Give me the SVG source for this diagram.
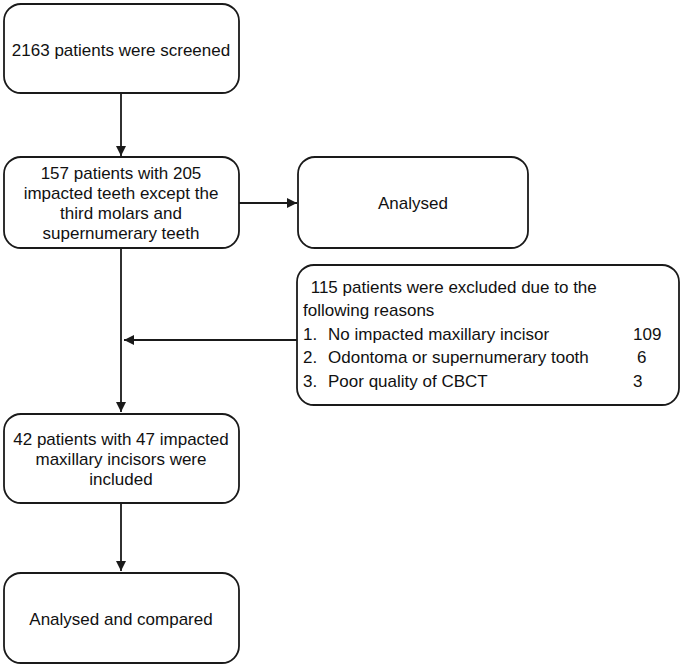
<svg xmlns="http://www.w3.org/2000/svg" width="685" height="668" viewBox="0 0 685 668">
<defs>
<style>
.box{fill:#fff;stroke:#1a1a1a;stroke-width:1.8}
.t{font-family:"Liberation Sans",Arial,sans-serif;font-size:17px;fill:#111}
.c{text-anchor:middle}
.ln{stroke:#1a1a1a;stroke-width:1.8;fill:none}
</style>
<marker id="ah" viewBox="0 0 10 10" refX="10" refY="5" markerWidth="10" markerHeight="10" markerUnits="userSpaceOnUse" orient="auto">
<path d="M0,0 L10,5 L0,10 z" fill="#1a1a1a"/>
</marker>
</defs>
<rect width="685" height="668" fill="#fff"/>
<g id="connectors">
<line class="ln" x1="121" y1="93" x2="121" y2="156" marker-end="url(#ah)"/>
<line class="ln" x1="239" y1="203" x2="297" y2="203" marker-end="url(#ah)"/>
<line class="ln" x1="121" y1="248" x2="121" y2="412" marker-end="url(#ah)"/>
<line class="ln" x1="297" y1="340" x2="124" y2="340" marker-end="url(#ah)"/>
<line class="ln" x1="121" y1="503" x2="121" y2="571" marker-end="url(#ah)"/>
</g>
<g id="screened">
<rect class="box" x="4" y="4" width="235" height="89" rx="17"/>
<text class="t c" x="121" y="56">2163 patients were screened</text>
</g>
<g id="impacted">
<rect class="box" x="4" y="157" width="235" height="91" rx="17"/>
<text class="t c" x="121" y="179">157 patients with 205</text>
<text class="t c" x="121" y="199">impacted teeth except the</text>
<text class="t c" x="121" y="219">third molars and</text>
<text class="t c" x="121" y="239">supernumerary teeth</text>
</g>
<g id="analysed">
<rect class="box" x="298" y="157" width="230" height="91" rx="17"/>
<text class="t c" x="413" y="209">Analysed</text>
</g>
<g id="excluded">
<rect class="box" x="297" y="265" width="382" height="140" rx="17"/>
<text class="t" x="306" y="293" xml:space="preserve"> 115 patients were excluded due to the</text>
<text class="t" x="303" y="316">following reasons</text>
<text class="t" x="303" y="340">1.</text>
<text class="t" x="328" y="340">No impacted maxillary incisor</text>
<text class="t" x="633" y="340">109</text>
<text class="t" x="303" y="363">2.</text>
<text class="t" x="328" y="363">Odontoma or supernumerary tooth</text>
<text class="t" x="637" y="363">6</text>
<text class="t" x="303" y="387">3.</text>
<text class="t" x="328" y="387">Poor quality of CBCT</text>
<text class="t" x="633" y="387">3</text>
</g>
<g id="included">
<rect class="box" x="4" y="414" width="235" height="89" rx="17"/>
<text class="t c" x="121" y="445">42 patients with 47 impacted</text>
<text class="t c" x="121" y="465">maxillary incisors were</text>
<text class="t c" x="121" y="485">included</text>
</g>
<g id="compared">
<rect class="box" x="4" y="573" width="235" height="90" rx="17"/>
<text class="t c" x="121" y="625">Analysed and compared</text>
</g>
</svg>
